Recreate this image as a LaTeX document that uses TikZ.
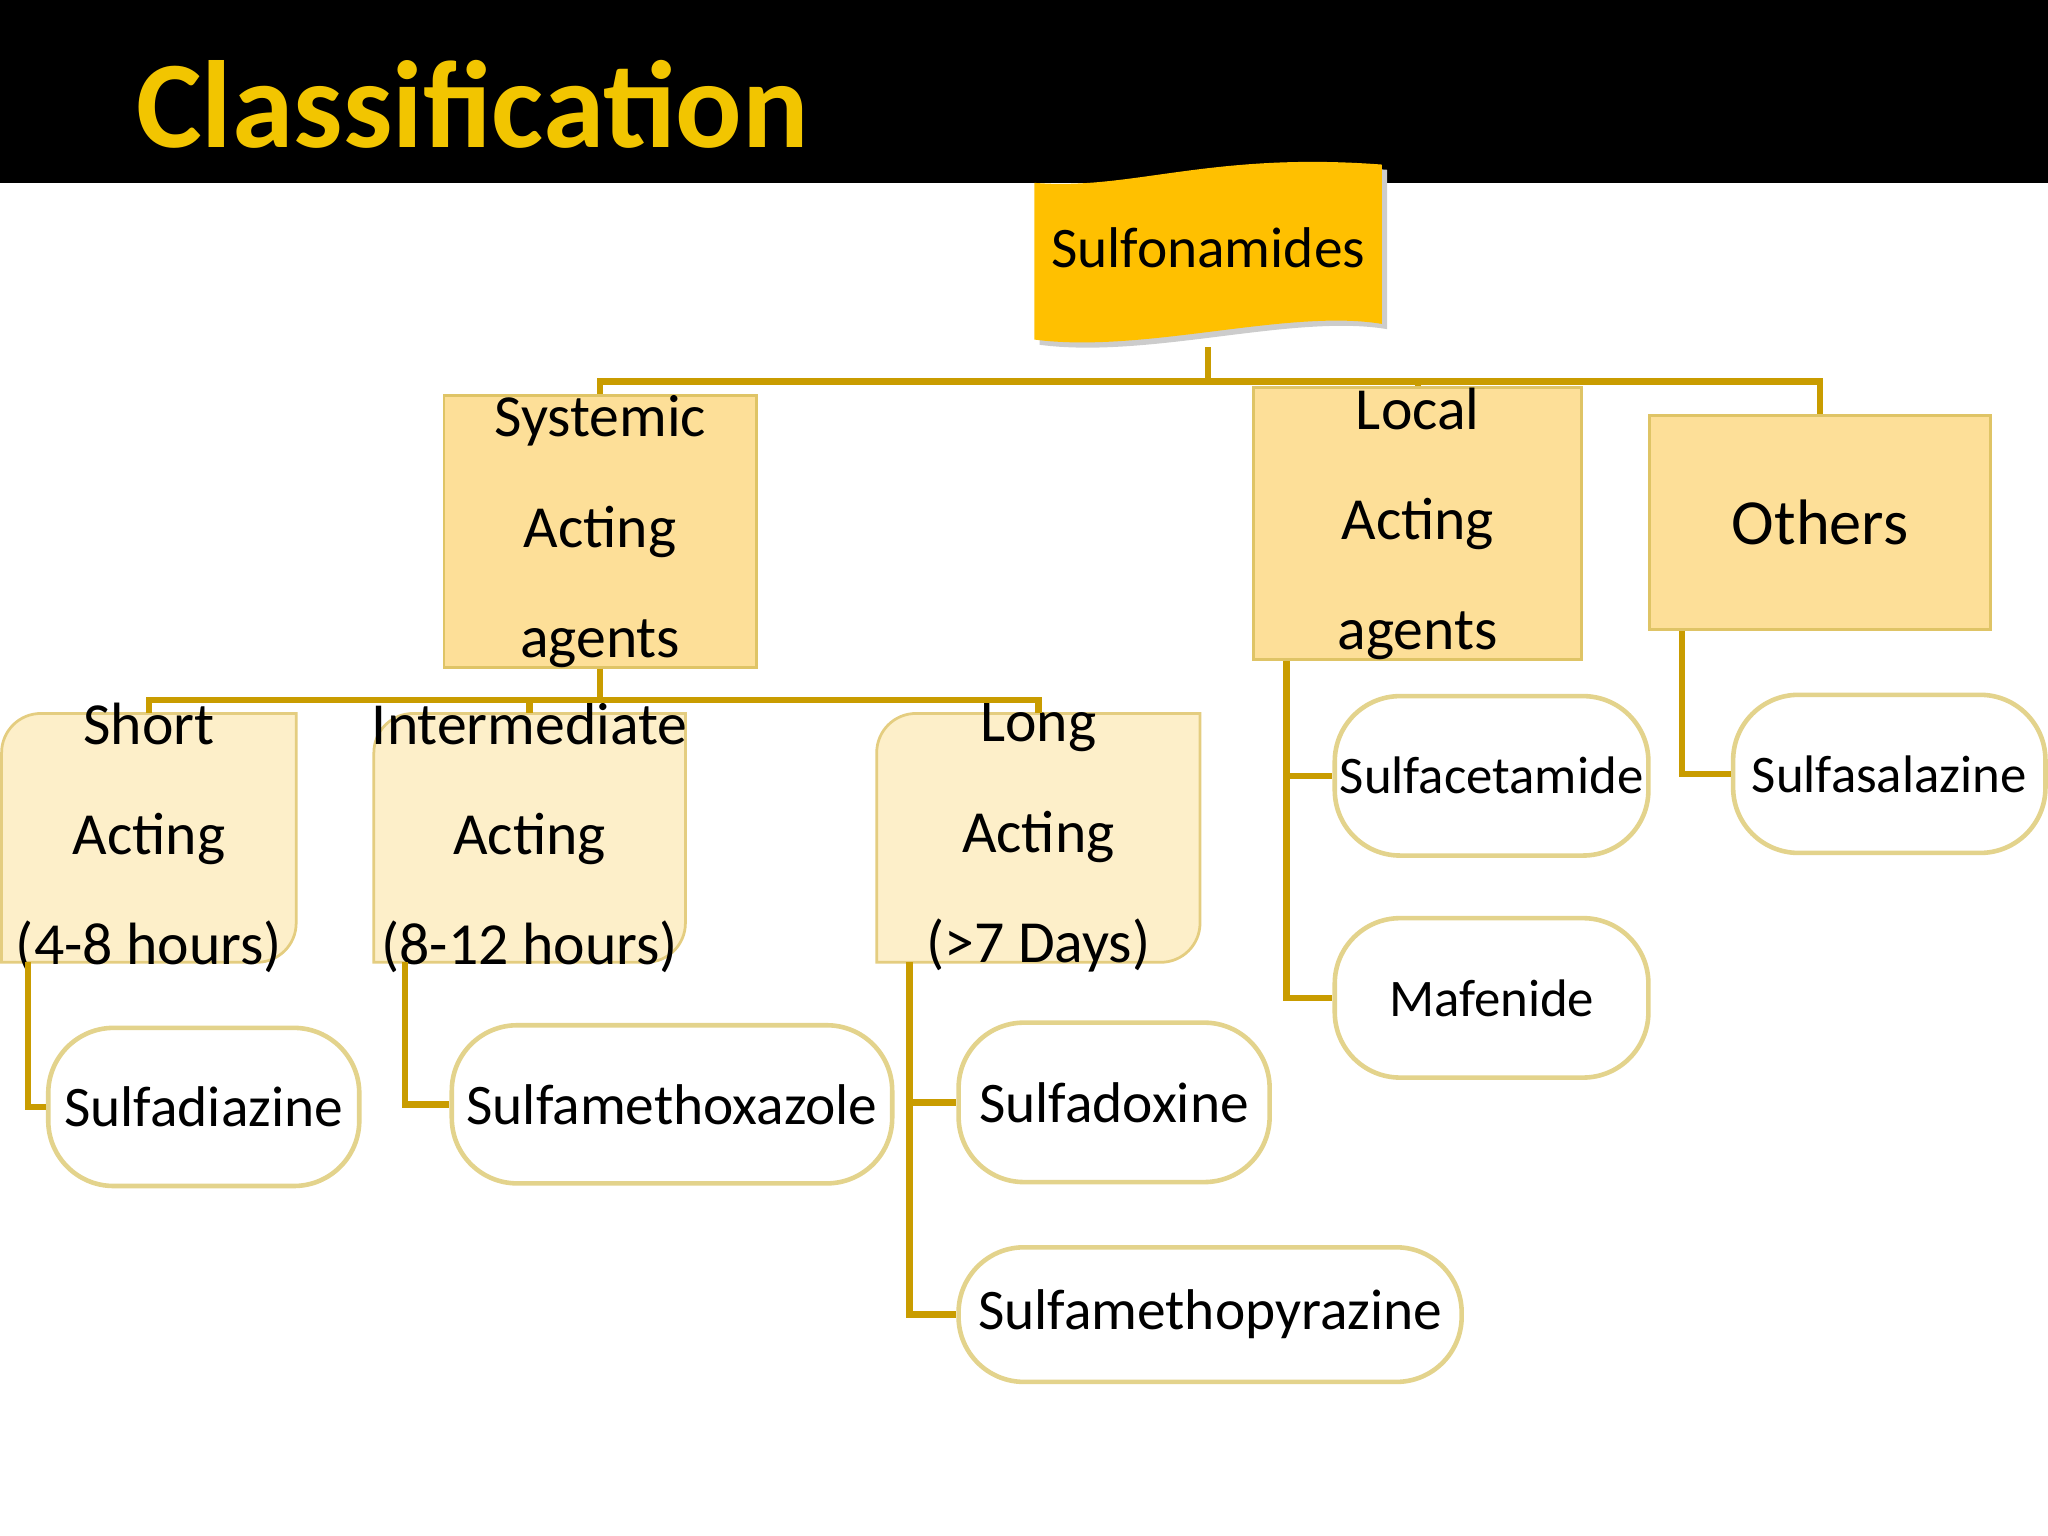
\documentclass[tikz,border=0pt]{standalone}
\usepackage{fontspec}
\setmainfont{Carlito}
\usetikzlibrary{calc}
\definecolor{gold}{HTML}{FFC000}
\definecolor{conn}{HTML}{C99C00}
\definecolor{midfill}{HTML}{FDDF98}
\definecolor{lowfill}{HTML}{FDEFC9}
\definecolor{pillb}{HTML}{E3D38C}
\definecolor{titlec}{HTML}{F2C500}
\tikzset{
  conn/.style={draw=conn,line width=1.4pt},
  mid/.style={draw=conn!60,fill=midfill,line width=0.6pt,inner sep=0pt,align=center,font=\fontsize{13}{24}\selectfont},
  low/.style={inner sep=0pt,align=center,font=\fontsize{13}{24}\selectfont},
  pill/.style={draw=pillb,fill=white,line width=1pt,rounded corners=0.5cm,inner sep=0pt,font=\fontsize{12.5}{15}\selectfont,drop shadow/.style={}},
}
\newcommand{\lowshape}[1]{%
  \draw[draw=conn!50,fill=lowfill,line width=0.6pt] (#1.south west) -- ($(#1.north west)+(0,-0.3cm)$) arc[start angle=180,end angle=90,radius=0.3cm] -- (#1.north east) -- ($(#1.south east)+(0,0.3cm)$) arc[start angle=0,end angle=-90,radius=0.3cm] -- cycle;}
\begin{document}
\begin{tikzpicture}[x=0.01cm,y=-0.01cm]
\useasboundingbox (0,0) rectangle (1568,1176);
\fill[black] (0,0) rectangle (1568,140);
\node[anchor=west,text=titlec,font=\fontsize{27}{30}\bfseries\selectfont] (title) at (92,80) {Classification};
% banner
\fill[gray!40] (796,144) .. controls (870,150) and (930,120) .. (1062,130) -- (1062,252) .. controls (990,240) and (880,275) .. (796,264) -- cycle;
\fill[gold] (792,140) .. controls (866,146) and (926,116) .. (1058,126) -- (1058,248) .. controls (986,236) and (876,271) .. (792,260) -- cycle;
\node[font=\fontsize{12.5}{15}\selectfont] (ban) at (925,190) {Sulfonamides};
\coordinate (bb) at (925,266);
% mid boxes
\node[mid,minimum width=2.39cm,minimum height=1.78cm] (sys) at (459.5,407) {Systemic\\Acting\\agents};
\node[mid,minimum width=2.51cm,minimum height=1.66cm] (loc) at (1085.5,401) {Local\\Acting\\agents};
\node[mid,minimum width=2.61cm,minimum height=1.64cm,font=\fontsize{14}{17}\selectfont] (oth) at (1393.5,400) {Others};
% low boxes
\node[low,minimum width=2.24cm,minimum height=1.89cm] (sh) at (114,641.5) {};
\node[low,minimum width=2.37cm,minimum height=1.89cm] (im) at (405.5,641.5) {};
\node[low,minimum width=2.46cm,minimum height=1.89cm] (lg) at (795,641.5) {};
\lowshape{sh}\lowshape{im}\lowshape{lg}
\node[low] at (sh) {Short\\Acting\\(4-8 hours)};
\node[low] at (im) {Intermediate\\Acting\\(8-12 hours)};
\node[low] at (lg) {Long\\Acting\\(>7 Days)};
% pills
\node[pill,minimum width=2.38cm,minimum height=1.21cm] (p1) at (156,847.5) {Sulfadiazine};
\node[pill,minimum width=3.37cm,minimum height=1.21cm] (p2) at (514.5,845.5) {Sulfamethoxazole};
\node[pill,minimum width=2.38cm,minimum height=1.22cm] (p3) at (853,844) {Sulfadoxine};
\node[pill,minimum width=3.85cm,minimum height=1.03cm] (p4) at (926.5,1006.5) {Sulfamethopyrazine};
\node[pill,minimum width=2.40cm,minimum height=1.22cm,font=\fontsize{11.5}{14}\selectfont] (p5) at (1142,594) {Sulfacetamide};
\node[pill,minimum width=2.40cm,minimum height=1.22cm,font=\fontsize{11.5}{14}\selectfont] (p6) at (1142,764) {Mafenide};
\node[pill,minimum width=2.39cm,minimum height=1.21cm,font=\fontsize{11.5}{14}\selectfont] (p7) at (1446.5,592.5) {Sulfasalazine};
% connectors
\draw[conn] (bb) -- ++(0,26) -| (sys.north);
\draw[conn] (bb) -- ++(0,26) -| (loc.north);
\draw[conn] (bb) -- ++(0,26) -| (oth.north);
\draw[conn] (sys.south) -- ++(0,24) -| (sh.north);
\draw[conn] (sys.south) -- ++(0,24) -| (im.north);
\draw[conn] (sys.south) -- ++(0,24) -| (lg.north);
\draw[conn] ([xshift=0.2cm]sh.south west) |- (p1.west);
\draw[conn] ([xshift=0.24cm]im.south west) |- (p2.west);
\draw[conn] ([xshift=0.25cm]lg.south west) |- (p3.west);
\draw[conn] ([xshift=0.25cm]lg.south west) |- (p4.west);
\draw[conn] ([xshift=0.26cm]loc.south west) |- (p5.west);
\draw[conn] ([xshift=0.26cm]loc.south west) |- (p6.west);
\draw[conn] ([xshift=0.26cm]oth.south west) |- (p7.west);
\end{tikzpicture}
\end{document}
